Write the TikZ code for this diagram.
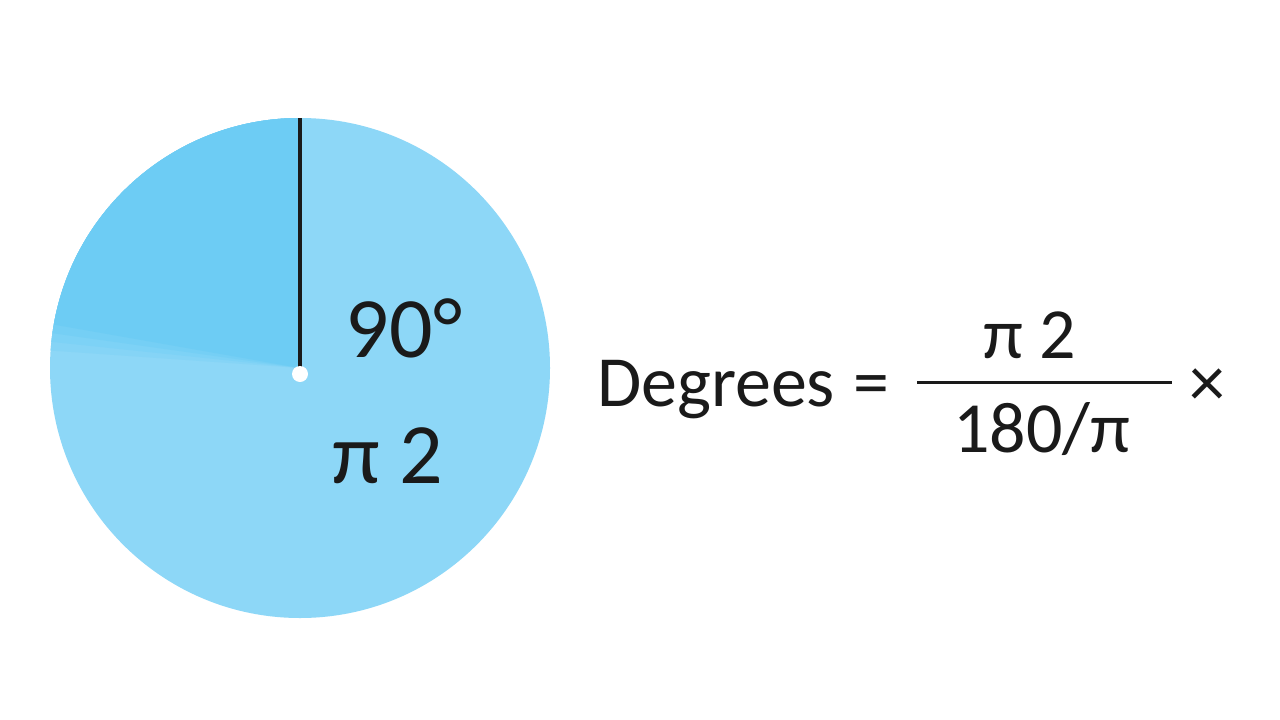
\documentclass[tikz,border=0pt]{standalone}
\usepackage{fontspec}
\setmainfont{Carlito}
\definecolor{lightblue}{HTML}{8DD7F7}
\definecolor{darkblue}{HTML}{6DCCF4}
\definecolor{ink}{HTML}{1A1A1A}
\begin{document}
\begin{tikzpicture}[x=1pt,y=-1pt,
  lbl/.style={inner sep=0pt,anchor=base,text=ink,font=\fontsize{86}{92}\selectfont},
  eq/.style={inner sep=0pt,anchor=base,text=ink,font=\fontsize{72}{78}\selectfont}]
\useasboundingbox[fill=white] (0,0) rectangle (1280,720);
\coordinate (c) at (300,368);
\coordinate (top) at (300,118);
\fill[lightblue] (c) circle[radius=250];
\foreach \e/\p in {-176/25,-174/50,-172/75,-170/100}{
  \fill[darkblue!\p!lightblue] (c) -- +(0,-250) arc[start angle=-90,end angle=\e,radius=250] -- cycle;
}
\draw[ink,line width=3.2pt] (c) -- (top);
\fill[white] (300,374) circle[radius=8];
\node[lbl] (deg) at (404,357) {90°};
\node[lbl] (rad) at (388,483) {π 2};
\node[eq] (lhs) at (716,406) {Degrees};
\node[eq] (eqs) at (871,406) {=};
\coordinate (b1) at (917,382);
\coordinate (b2) at (1172,382);
\draw[ink,line width=3pt] (b1) -- (b2);
\node[eq] (num) at (1030,358) {π 2};
\node[eq] (den) at (1042,452) {180/π};
\node[eq] (times) at (1207,406) {×};
\end{tikzpicture}
\end{document}
